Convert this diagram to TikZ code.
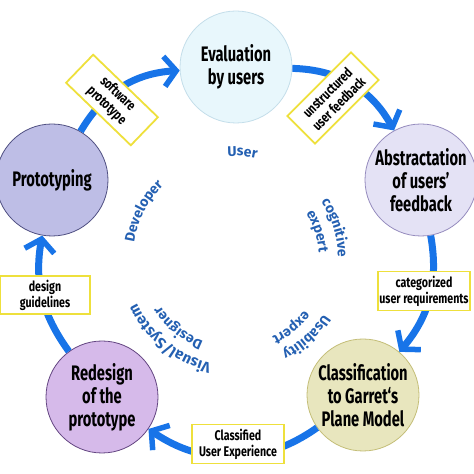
\documentclass[tikz,border=0pt]{standalone}
\usepackage{fontspec}
\setmainfont{Fira Sans}
\newfontfamily\condfont[FakeStretch=0.7]{Fira Sans}
\newfontfamily\boxfont[FakeStretch=0.76]{Fira Sans}
\usetikzlibrary{arrows.meta, decorations.text}
\definecolor{flowblue}{RGB}{24,116,232}
\definecolor{roleblue}{RGB}{36,96,178}
\definecolor{boxyellow}{RGB}{238,224,60}
\definecolor{evalfill}{RGB}{232,247,252}
\definecolor{evaledge}{RGB}{196,222,234}
\definecolor{absfill}{RGB}{228,226,245}
\definecolor{absedge}{RGB}{150,140,190}
\definecolor{clsfill}{RGB}{232,230,190}
\definecolor{clsedge}{RGB}{196,190,120}
\definecolor{redfill}{RGB}{214,186,234}
\definecolor{rededge}{RGB}{100,70,130}
\definecolor{profill}{RGB}{190,190,230}
\definecolor{proedge}{RGB}{80,80,130}

\begin{document}
\begin{tikzpicture}[x=1pt, y=1pt,
    stage/.style={draw, circle, line width=0.8pt, minimum size=112pt, inner sep=0pt, align=center, font=\condfont\bfseries\fontsize{21}{23}\selectfont},
    flow/.style={draw=flowblue, line width=7pt, -{Straight Barb[length=12pt,width=30pt,line width=5.5pt]}},
    lbl/.style={draw=boxyellow, fill=white, line width=1.8pt, minimum width=90pt, minimum height=39pt, inner sep=1pt, align=center, font=\boxfont\bfseries\fontsize{14}{16}\selectfont},
    role/.style={decorate, decoration={text along path, text align=center, text color=roleblue}}]
    \useasboundingbox (0,0) rectangle (474,474);
    % the five stages
    \node[stage, fill=evalfill, draw=evaledge] (eval) at (236,407) {Evaluation\\by users};
    \node[stage, fill=absfill, draw=absedge] (abs) at (421,294) {Abstractation\\of users’\\feedback};
    \node[stage, fill=clsfill, draw=clsedge] (cls) at (363,79) {Classification\\to Garret‘s\\Plane Model};
    \node[stage, fill=redfill, draw=rededge] (redes) at (102,77) {Redesign\\of the\\prototype};
    \node[stage, fill=profill, draw=proedge] (proto) at (52,294) {Prototyping};
    % cycle
    \draw[flow] (proto) to[bend left=28] (eval);
    \draw[flow] (eval) to[bend left=30] (abs);
    \draw[flow] (abs) to[bend left=25] (cls);
    \draw[flow] (cls) to[bend left=35] (redes);
    \draw[flow] (redes) to[bend left=23] (proto);
    % what goes along each arrow
    \node[lbl, rotate=-44] (swproto) at (112,374) {software\\prototype};
    \node[lbl, rotate=45] (unfb) at (333,376) {unstructured\\user feedback};
    \node[lbl] (catreq) at (424,183) {categorized\\user requirements};
    \node[lbl, minimum width=92pt] (clux) at (238,30) {Classified\\User Experience};
    \node[lbl, minimum height=38pt] (desgd) at (45,179) {design\\guidelines};
    % roles round the middle
    \coordinate (hub) at (235,216);
    \path[role, decoration={text={|\bfseries\fontsize{14}{14}\selectfont|User}}] ([shift={(115:102)}]hub) arc[start angle=115, end angle=57, radius=102];
    \path[role, decoration={text={|\bfseries\fontsize{14}{14}\selectfont|Developer}}] ([shift={(192:102)}]hub) arc[start angle=192, end angle=114, radius=102];
    \path[role, decoration={text={|\bfseries\fontsize{14}{14}\selectfont|cognitive}}] ([shift={(57:103)}]hub) arc[start angle=57, end angle=-23, radius=103];
    \path[role, decoration={text={|\bfseries\fontsize{14}{14}\selectfont|expert}}] ([shift={(55:84)}]hub) arc[start angle=55, end angle=-19, radius=84];
    \path[role, decoration={text={|\bfseries\fontsize{14}{14}\selectfont|Usability}}] ([shift={(-8:105)}]hub) arc[start angle=-8, end angle=-88, radius=105];
    \path[role, decoration={text={|\bfseries\fontsize{14}{14}\selectfont|expert}}] ([shift={(-14:87)}]hub) arc[start angle=-14, end angle=-88, radius=87];
    \path[role, decoration={text={|\bfseries\fontsize{15}{15}\selectfont|Visual/System}}] ([shift={(278:108)}]hub) arc[start angle=278, end angle=184, radius=108];
    \path[role, decoration={text={|\bfseries\fontsize{14}{14}\selectfont|Designer}}] ([shift={(272:89)}]hub) arc[start angle=272, end angle=190, radius=89];
\end{tikzpicture}
\end{document}
